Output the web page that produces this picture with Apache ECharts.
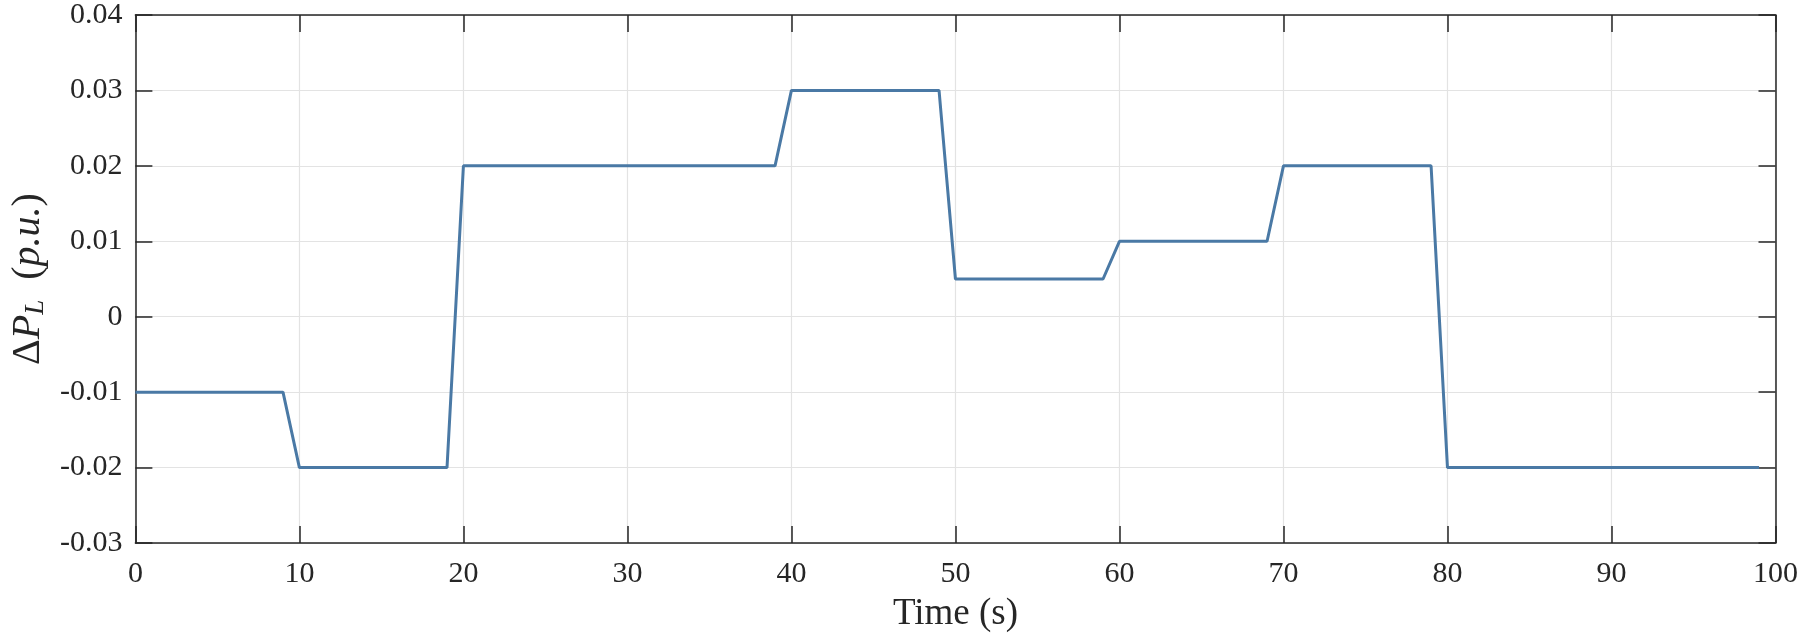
<!DOCTYPE html>
<html>
<head>
<meta charset="utf-8">
<script src="https://cdn.jsdelivr.net/npm/echarts@6/dist/echarts.min.js"></script>
<style>
html,body{margin:0;padding:0;background:#fff;}
#chart{width:1801px;height:638px;}
</style>
</head>
<body>
<div id="chart"></div>
<script>
// Data
const timeValues = [0, 9, 10, 19, 20, 39, 40, 49, 50, 59, 60, 69, 70, 79, 80, 99];
const loadValues = [-0.01, -0.01, -0.02, -0.02, 0.02, 0.02, 0.03, 0.03, 0.005, 0.005, 0.01, 0.01, 0.02, 0.02, -0.02, -0.02];
const xTicks = [0, 10, 20, 30, 40, 50, 60, 70, 80, 90, 100];
const yTicks = [-0.03, -0.02, -0.01, 0, 0.01, 0.02, 0.03, 0.04];

const seriesData = timeValues.map((t, i) => [t, loadValues[i]]);
const axisColor = '#262626';
const fontFam = '"Liberation Serif", "DejaVu Serif", serif';

const chart = echarts.init(document.getElementById('chart'), null, {renderer: 'canvas'});
const tickStyle = {show: true, inside: true, length: 17, lineStyle: {color: axisColor, width: 1.5}};
const lineStyle = {show: true, onZero: false, lineStyle: {color: axisColor, width: 1.5}};

chart.setOption({
  animation: false,
  grid: {left: 126, right: 24, top: 12, bottom: 91, containLabel: false},
  xAxis: [{
    type: 'value',
    min: xTicks[0], max: xTicks[xTicks.length - 1], interval: 10,
    position: 'bottom',
    axisLine: lineStyle, axisTick: tickStyle,
    axisLabel: {color: axisColor, fontFamily: fontFam, fontSize: 30, margin: 16},
    splitLine: {show: true, lineStyle: {color: '#e3e3e3', width: 1.2}},
    name: 'Time (s)', nameLocation: 'middle', nameGap: 53,
    nameTextStyle: {color: axisColor, fontFamily: fontFam, fontSize: 37}
  }, {
    type: 'value',
    min: xTicks[0], max: xTicks[xTicks.length - 1], interval: 10,
    position: 'top',
    axisLine: lineStyle, axisTick: tickStyle,
    axisLabel: {show: false}, splitLine: {show: false}
  }],
  yAxis: [{
    type: 'value',
    min: yTicks[0], max: yTicks[yTicks.length - 1], interval: 0.01,
    position: 'left',
    axisLine: lineStyle, axisTick: tickStyle,
    axisLabel: {color: axisColor, fontFamily: fontFam, fontSize: 30, margin: 13,
      formatter: v => String(+v.toFixed(3))},
    splitLine: {show: true, lineStyle: {color: '#e3e3e3', width: 1.2}},
    name: '{n|\u0394}{i|P}{s|L}{n|  (}{i|p.u.}{n|)}',
    nameLocation: 'middle', nameRotate: 90, nameGap: 84,
    nameTextStyle: {
      color: axisColor, fontFamily: fontFam, fontSize: 40,
      rich: {
        n: {fontFamily: fontFam, fontSize: 40, color: axisColor},
        i: {fontFamily: fontFam, fontSize: 40, fontStyle: 'italic', color: axisColor},
        s: {fontFamily: fontFam, fontSize: 27, fontStyle: 'italic', color: axisColor, verticalAlign: 'bottom', padding: [15, 0, 0, 0]}
      }
    }
  }, {
    type: 'value',
    min: yTicks[0], max: yTicks[yTicks.length - 1], interval: 0.01,
    position: 'right',
    axisLine: lineStyle, axisTick: tickStyle,
    axisLabel: {show: false}, splitLine: {show: false}
  }],
  series: [{
    type: 'line',
    data: seriesData,
    xAxisIndex: 0, yAxisIndex: 0,
    showSymbol: false, symbol: 'none',
    lineStyle: {color: '#4a79a5', width: 3},
    itemStyle: {color: '#4a79a5'}
  }]
});
</script>
</body>
</html>
